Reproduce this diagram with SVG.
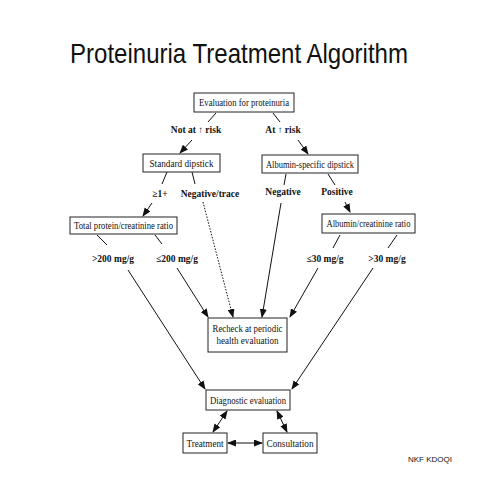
<svg xmlns="http://www.w3.org/2000/svg" width="480" height="480" viewBox="0 0 480 480">
<style>
.box{fill:#fff;stroke:#222;stroke-width:1}
.t{font-family:"Liberation Serif",serif;font-size:9.5px;fill:#111;text-anchor:middle}
.b{font-family:"Liberation Serif",serif;font-size:9.5px;font-weight:bold;fill:#111;text-anchor:middle}
.ln{stroke:#111;stroke-width:1;fill:none}
.ar{marker-end:url(#ah)}
.da{marker-end:url(#ah);marker-start:url(#ah)}
</style>
<defs>
<marker id="ah" markerUnits="userSpaceOnUse" markerWidth="9" markerHeight="7" refX="8" refY="3.5" orient="auto-start-reverse">
<path d="M0,0 L9,3.5 L0,7 z" fill="#111"/>
</marker>
</defs>
<rect width="480" height="480" fill="#fff"/>
<text x="70" y="63" font-family="Liberation Sans,Arial,sans-serif" font-size="28" fill="#111" textLength="338" lengthAdjust="spacingAndGlyphs">Proteinuria Treatment Algorithm</text>

<g id="connectors">
<line class="ln" x1="216" y1="113" x2="208" y2="122"/>
<line class="ln ar" x1="192" y1="140" x2="180" y2="153"/>
<line class="ln" x1="273" y1="113" x2="280" y2="122"/>
<line class="ln ar" x1="298" y1="140" x2="308" y2="154"/>
<line class="ln" x1="167" y1="172" x2="162" y2="184"/>
<line class="ln" x1="192" y1="172" x2="195" y2="184"/>
<line class="ln ar" x1="152" y1="203" x2="143" y2="216"/>
<line class="ln ar" x1="203" y1="202" x2="233" y2="317" stroke-dasharray="1.5,1.5" stroke-width="0.8"/>
<line class="ln" x1="286" y1="174" x2="284" y2="185"/>
<line class="ln" x1="328" y1="174" x2="335" y2="185"/>
<line class="ln ar" x1="345" y1="202" x2="350" y2="212"/>
<line class="ln ar" x1="281" y1="203" x2="262" y2="317"/>
<line class="ln" x1="97" y1="235" x2="107" y2="245"/>
<line class="ln" x1="155" y1="235" x2="162" y2="244"/>
<line class="ln ar" x1="128" y1="270" x2="205" y2="389"/>
<line class="ln ar" x1="177" y1="268" x2="208" y2="317"/>
<line class="ln" x1="340" y1="235" x2="333" y2="248"/>
<line class="ln" x1="397" y1="235" x2="388" y2="248"/>
<line class="ln ar" x1="318" y1="268" x2="290" y2="317"/>
<line class="ln ar" x1="373" y1="268" x2="292" y2="389"/>
<line class="ln da" x1="227" y1="411" x2="213" y2="432"/>
<line class="ln da" x1="277" y1="411" x2="287" y2="432"/>
<line class="ln da" x1="228" y1="443" x2="262" y2="443"/>
</g>

<g id="labels">
<text class="b" x="196" y="133">Not at ↑ risk</text>
<text class="b" x="283" y="133">At ↑ risk</text>
<text class="b" x="160" y="197">≥1+</text>
<text class="b" x="210" y="197">Negative/trace</text>
<text class="b" x="283" y="195">Negative</text>
<text class="b" x="337" y="195">Positive</text>
<text class="b" x="113" y="262">&gt;200 mg/g</text>
<text class="b" x="177" y="262">≤200 mg/g</text>
<text class="b" x="325" y="262">≤30 mg/g</text>
<text class="b" x="387" y="262">&gt;30 mg/g</text>
</g>

<g id="eval"><rect class="box" x="194" y="93" width="100" height="19"/><text class="t" x="244" y="106" textLength="90" lengthAdjust="spacingAndGlyphs">Evaluation for proteinuria</text></g>
<g id="std"><rect class="box" x="143" y="154" width="77" height="18"/><text class="t" x="181.5" y="166.5" textLength="64" lengthAdjust="spacingAndGlyphs">Standard dipstick</text></g>
<g id="alb"><rect class="box" x="262" y="155" width="96" height="18"/><text class="t" x="310" y="167.5" textLength="88" lengthAdjust="spacingAndGlyphs">Albumin-specific dipstick</text></g>
<g id="tpcr"><rect class="box" x="70" y="217" width="107" height="17"/><text class="t" x="123.5" y="229" textLength="99" lengthAdjust="spacingAndGlyphs">Total protein/creatinine ratio</text></g>
<g id="acr"><rect class="box" x="322" y="214" width="93" height="19"/><text class="t" x="368.5" y="227" textLength="84" lengthAdjust="spacingAndGlyphs">Albumin/creatinine ratio</text></g>
<g id="recheck"><rect class="box" x="208" y="318" width="79" height="34"/><text class="t" x="247.5" y="332" textLength="70" lengthAdjust="spacingAndGlyphs">Recheck at periodic</text><text class="t" x="247.5" y="344" textLength="62" lengthAdjust="spacingAndGlyphs">health evaluation</text></g>
<g id="diag"><rect class="box" x="206" y="390" width="84" height="20"/><text class="t" x="248" y="403.5" textLength="76" lengthAdjust="spacingAndGlyphs">Diagnostic evaluation</text></g>
<g id="treat"><rect class="box" x="183" y="433" width="44" height="20"/><text class="t" x="205" y="446.5" textLength="37" lengthAdjust="spacingAndGlyphs">Treatment</text></g>
<g id="consult"><rect class="box" x="263" y="433" width="54" height="20"/><text class="t" x="290" y="446.5" textLength="47" lengthAdjust="spacingAndGlyphs">Consultation</text></g>
<text x="408" y="462" font-family="Liberation Sans,Arial,sans-serif" font-size="8" fill="#111">NKF KDOQI</text>
</svg>
